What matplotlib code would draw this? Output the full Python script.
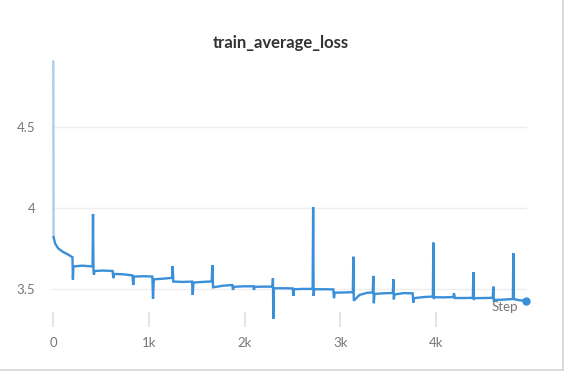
import matplotlib
matplotlib.use("Agg")
import matplotlib.pyplot as plt
from matplotlib.lines import Line2D

# steps and loss values
steps = [0, 3, 20, 50, 100, 150, 200, 205, 210, 300, 410, 415, 420, 425, 430,
         520, 620, 627, 634, 730, 828, 835, 842, 950, 1035, 1042, 1050, 1150,
         1240, 1247, 1254, 1350, 1450, 1457, 1464, 1560, 1655, 1662, 1669, 1780,
         1870, 1878, 1886, 1990, 2090, 2097, 2104, 2200, 2290, 2295, 2299, 2305,
         2400, 2502, 2508, 2515, 2610, 2710, 2715, 2720, 2726, 2830, 2926, 2933,
         2940, 3030, 3130, 3135, 3140, 3200, 3280, 3338, 3344, 3349, 3356, 3450,
         3548, 3553, 3558, 3565, 3660, 3755, 3762, 3770, 3870, 3966, 3971, 3976,
         3982, 4080, 4180, 4187, 4195, 4290, 4384, 4389, 4394, 4400, 4500, 4592,
         4598, 4603, 4610, 4700, 4802, 4807, 4812, 4870, 4936]
loss = [4.90, 3.82, 3.78, 3.752, 3.73, 3.715, 3.697, 3.56, 3.64, 3.645, 3.64, 3.963, 3.61, 3.59, 3.612,
        3.615, 3.612, 3.568, 3.594, 3.592, 3.585, 3.526, 3.578, 3.58, 3.578, 3.442, 3.561, 3.565,
        3.57, 3.643, 3.547, 3.545, 3.547, 3.465, 3.541, 3.545, 3.548, 3.649, 3.512, 3.522,
        3.526, 3.496, 3.515, 3.518, 3.518, 3.496, 3.515, 3.516, 3.516, 3.568, 3.318, 3.506,
        3.506, 3.505, 3.459, 3.50, 3.502, 3.502, 4.006, 3.459, 3.50, 3.50, 3.499, 3.445,
        3.479, 3.48, 3.482, 3.70, 3.43, 3.465, 3.478, 3.48, 3.582, 3.414, 3.471, 3.475,
        3.477, 3.561, 3.438, 3.468, 3.476, 3.475, 3.418, 3.445, 3.452, 3.455, 3.787, 3.44,
        3.451, 3.45, 3.452, 3.475, 3.446, 3.446, 3.447, 3.605, 3.434, 3.445, 3.446, 3.447,
        3.516, 3.424, 3.434, 3.436, 3.44, 3.721, 3.44, 3.432, 3.43]

y_ticks = [3.5, 4, 4.5]
y_labels = ["3.5", "4", "4.5"]
x_ticks = [0, 1000, 2000, 3000, 4000]
x_labels = ["0", "1k", "2k", "3k", "4k"]

plt.rcParams['font.family'] = ['Lato', 'DejaVu Sans']

line_color = "#3a8fd9"
fig = plt.figure(figsize=(5.65, 3.72), dpi=100)
ax = fig.add_axes([0.0918, 0.1613, 0.841, 0.673])

ax.plot(steps[:2], loss[:2], color="#a9cdef", linewidth=1.7, clip_on=False)
ax.plot(steps[1:], loss[1:], color=line_color, linewidth=1.7, clip_on=False,
        solid_joinstyle="miter")
ax.plot(steps[-1], loss[-1], "o", color=line_color, markersize=5, clip_on=False)

ax.set_xlim(-15, 4950)
ax.set_ylim(3.36, 4.9)
ax.set_yticks(y_ticks)
ax.set_yticklabels(y_labels)
ax.set_xticks(x_ticks)
ax.set_xticklabels(x_labels)
ax.grid(axis="y", color="#eeeeee", linewidth=1)
ax.set_axisbelow(True)
for s in ax.spines.values():
    s.set_visible(False)
ax.tick_params(axis="y", length=0, pad=12, labelsize=9.5, labelcolor="#777777")
ax.tick_params(axis="x", length=11, width=1.5, color="#e5e5e5", pad=7,
               labelsize=9.5, labelcolor="#777777")

fig.text(0.497, 0.884, "train_average_loss", ha="center", va="center",
         fontsize=12, fontweight="bold", color="#333333")
fig.text(0.893, 0.174, "Step", ha="center", va="center", fontsize=9.5, color="#777777")

# panel border on the right and bottom
fig.add_artist(Line2D([0, 0.996], [0.0067, 0.0067], transform=fig.transFigure,
                      color="#d4d4d4", linewidth=1.2))
fig.add_artist(Line2D([0.996, 0.996], [0.0067, 1], transform=fig.transFigure,
                      color="#d4d4d4", linewidth=1.2))

fig.savefig("out.png", dpi=100)
